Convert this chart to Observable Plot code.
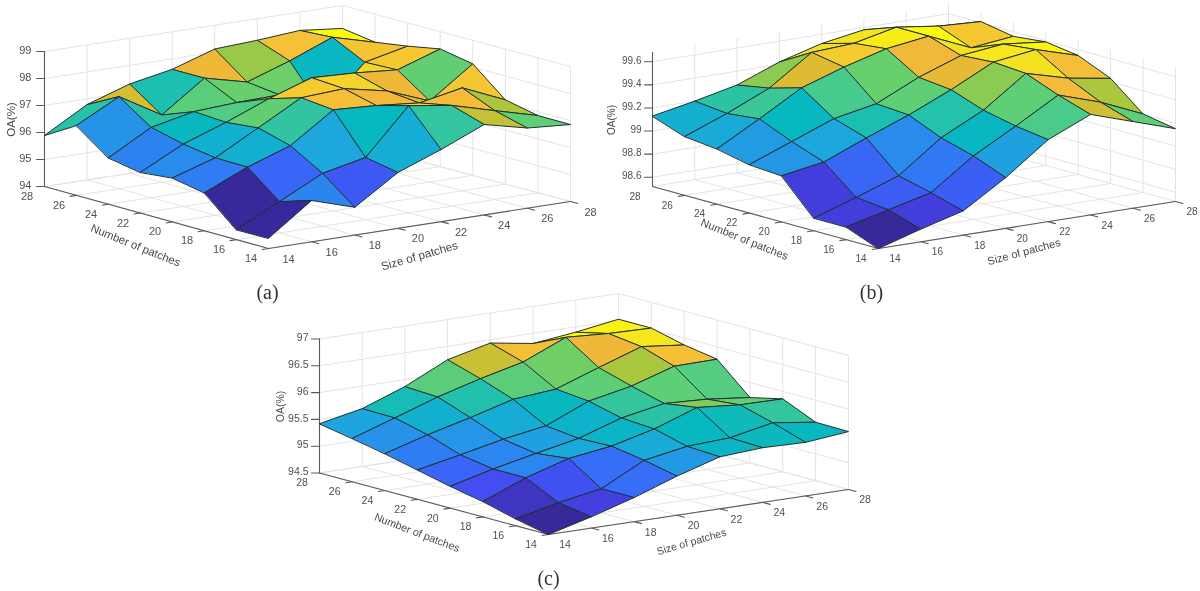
<!DOCTYPE html>
<html>
<head>
<meta charset="utf-8">
<script src="https://cdn.jsdelivr.net/npm/d3@7"></script>
<script src="https://cdn.jsdelivr.net/npm/@observablehq/plot@0.6"></script>
<style>
html,body{margin:0;padding:0;background:#fff}
svg{display:block;filter:blur(0.35px)}
</style>
</head>
<body>
<div id="chart"></div>
<script>
// Axis categories
const numberOfPatches = [28, 26, 24, 22, 20, 18, 16, 14];
const sizeOfPatches = [14, 16, 18, 20, 22, 24, 26, 28];

// OA(%): one row per size of patches, one value per number of patches (28 -> 14)
const oaA = [
  [95.89, 96.59, 95.72, 95.51, 95.63, 95.41, 94.37, 94.38],
  [96.79, 97.41, 96.60, 96.31, 96.13, 96.11, 95.16, 95.53],
  [97.31, 96.49, 96.94, 96.87, 96.99, 96.66, 95.96, 95.03],
  [97.61, 97.61, 97.03, 97.50, 97.86, 97.74, 96.30, 96.07],
  [98.12, 97.22, 97.07, 98.03, 97.95, 97.65, 97.97, 96.67],
  [98.20, 97.76, 96.27, 97.96, 97.62, 97.50, 97.73, 97.35],
  [98.32, 98.39, 97.79, 97.83, 97.00, 97.81, 97.29, 96.97],
  [98.15, 97.96, 98.14, 98.36, 98.13, 97.12, 96.86, 96.85]
];
const oaB = [
  [99.13, 99.03, 99.00, 98.94, 98.92, 98.63, 98.63, 98.52],
  [99.20, 99.17, 99.20, 99.08, 98.98, 98.75, 98.72, 98.63],
  [99.28, 99.33, 99.41, 99.22, 99.13, 98.88, 98.81, 98.73],
  [99.42, 99.58, 99.53, 99.29, 99.27, 99.15, 99.07, 98.96],
  [99.52, 99.60, 99.63, 99.46, 99.43, 99.33, 99.27, 99.23],
  [99.58, 99.68, 99.68, 99.59, 99.61, 99.59, 99.48, 99.39],
  [99.52, 99.63, 99.52, 99.63, 99.66, 99.49, 99.36, 99.27],
  [99.50, 99.61, 99.56, 99.59, 99.55, 99.43, 99.20, 99.15]
];
const oaC = [
  [95.42, 95.31, 95.19, 95.05, 94.91, 94.79, 94.63, 94.50],
  [95.58, 95.57, 95.42, 95.21, 95.11, 95.11, 94.81, 94.71],
  [95.87, 95.84, 95.62, 95.38, 95.28, 95.35, 94.95, 94.95],
  [96.25, 96.06, 95.84, 95.51, 95.44, 95.46, 95.36, 95.23],
  [96.44, 96.25, 95.91, 95.85, 95.70, 95.66, 95.50, 95.47],
  [96.31, 96.59, 96.19, 96.01, 95.85, 95.94, 95.54, 95.52],
  [96.40, 96.54, 96.46, 96.26, 95.81, 95.87, 95.70, 95.50],
  [96.52, 96.52, 96.37, 96.27, 95.72, 95.86, 95.59, 95.58]
];

const ticksA = [94, 95, 96, 97, 98, 99];
const ticksB = [98.6, 98.8, 99, 99.2, 99.4, 99.6];
const ticksC = [94.5, 95, 95.5, 96, 96.5, 97];

// Colour map stops (position, colour)
const colorStops = [0, .03, .12, .22, .3, .4, .48, .56, .62, .67, .72, .76, .82, .92, 1];
const colorValues = ["#37299a", "#3b2ca6", "#4545f0", "#3570f8", "#2a88ee", "#1ca8dc", "#07b8c0",
  "#2cc3a5", "#50cc85", "#6bcf6a", "#a5c83f", "#dcbc30", "#f5b73b", "#f5e024", "#fafa0a"];

// View geometry of each panel
const panels = [
  {name: "(a)", oa: oaA, ticks: ticksA, zBase: 94, zTop: 99, zPx: 135,
   left: [44, 186], front: [268, 248], right: [570, 201], back: [342, 140],
   capAt: [267, 292], numOff: [-21, 28], sizeOff: [0, 31], numRot: 22, sizeRot: -16, oaOff: -33,
   oaFont: 11.5, tickFont: 11, numFont: 11.3, sizeFont: 11.6, zDx: -13, sDx: 20},
  {name: "(b)", oa: oaB, ticks: ticksB, zBase: 98.52, zTop: 99.68, zPx: 134,
   left: [652, 186], front: [878, 248], right: [1175, 201], back: [948, 138],
   capAt: [871, 292], numOff: [-21, 22], sizeOff: [-3, 27], numRot: 22, sizeRot: -15, oaOff: -41,
   oaFont: 10, tickFont: 10, numFont: 11, sizeFont: 11, zDx: -11, sDx: 16.5},
  {name: "(c)", oa: oaC, ticks: ticksC, zBase: 94.5, zTop: 97, zPx: 134,
   left: [319, 472.5], front: [548, 534], right: [848, 489], back: [618, 427],
   capAt: [548, 578], numOff: [-17, 29], sizeOff: [-7, 30], numRot: 21, sizeRot: -16, oaOff: -39,
   oaFont: 10.5, tickFont: 10.5, numFont: 10.7, sizeFont: 10.5, zDx: -11, sDx: 16.5}
];

function project(p, n, s, z) {
  const u = (28 - n) / 14, v = (s - 14) / 14;
  // u: 0 at number 28, 1 at number 14. v: 0 at size 14, 1 at size 28.
  const mix = k => (1 - u) * (1 - v) * p.left[k] + u * (1 - v) * p.front[k] + u * v * p.right[k] + (1 - u) * v * p.back[k];
  const perUnit = p.zPx / (p.zTop - p.zBase);
  return {x: mix(0), y: mix(1) - (z - p.zBase) * perUnit};
}

const cellRows = [], gridRows = [], axisRows = [], textRows = [], titleRows = [], captionRows = [];
let gid = 0;
function seg(target, a, b) { const g = gid++; target.push({...a, g}, {...b, g}); }

for (const p of panels) {
  const nMin = 14, nMax = 28, sMin = 14, sMax = 28;
  const flat = p.oa.flat();
  const lo = d3.min(flat), hi = d3.max(flat);
  const zb = p.zBase, zt = p.zTop;

  // walls and floor
  for (const s of sizeOfPatches) {
    seg(gridRows, project(p, nMax, s, zb), project(p, nMax, s, zt));
    seg(gridRows, project(p, nMin, s, zb), project(p, nMax, s, zb));
  }
  for (const n of numberOfPatches) {
    seg(gridRows, project(p, n, sMax, zb), project(p, n, sMax, zt));
    seg(gridRows, project(p, n, sMin, zb), project(p, n, sMax, zb));
  }
  for (const t of p.ticks) {
    const a = project(p, nMax, sMin, t), c = project(p, nMax, sMax, t), d = project(p, nMin, sMax, t);
    seg(gridRows, a, c);
    seg(gridRows, c, d);
  }

  // axes
  seg(axisRows, project(p, nMax, sMin, zb), project(p, nMax, sMin, zt));
  seg(axisRows, project(p, nMax, sMin, zb), project(p, nMin, sMin, zb));
  seg(axisRows, project(p, nMin, sMin, zb), project(p, nMin, sMax, zb));
  for (const t of p.ticks) {
    const a = project(p, nMax, sMin, t);
    seg(axisRows, a, {x: a.x - 8, y: a.y});
    textRows.push({x: a.x + p.zDx, y: a.y - 1.2, label: String(t), anchor: "end", size: p.tickFont});
  }
  for (const n of numberOfPatches) {
    const a = project(p, n, sMin, zb);
    if (n !== nMax) { const b = project(p, n, sMin + 0.3, zb); seg(axisRows, {x: 2 * a.x - b.x, y: 2 * a.y - b.y}, a); }
    textRows.push({x: a.x - 17.5, y: a.y + 10, label: String(n), anchor: "middle", size: p.tickFont});
  }
  for (const s of sizeOfPatches) {
    const a = project(p, nMin, s, zb);
    if (s !== sMin) { const b = project(p, nMin + 0.45, s, zb); seg(axisRows, {x: 2 * a.x - b.x, y: 2 * a.y - b.y}, a); }
    textRows.push({x: a.x + p.sDx, y: a.y + 10.5, label: String(s), anchor: "middle", size: p.tickFont});
  }

  // surface: back cells first
  const cells = [];
  for (let j = 0; j < 7; j++) for (let i = 0; i < 7; i++) cells.push([i, j]);
  cells.sort((a, b) => (a[0] - a[1]) - (b[0] - b[1]));
  for (const [i, j] of cells) {
    const g = gid++;
    const t = (p.oa[j][i + 1] - lo) / (hi - lo);
    for (const [ii, jj] of [[i, j], [i, j + 1], [i + 1, j + 1], [i + 1, j]]) {
      cellRows.push({...project(p, numberOfPatches[ii], sizeOfPatches[jj], p.oa[jj][ii]), g, t});
    }
  }

  // titles
  const mid = (a, b, o) => ({x: (a[0] + b[0]) / 2 + o[0], y: (a[1] + b[1]) / 2 + o[1]});
  titleRows.push({...mid(p.left, p.front, p.numOff), label: "Number of patches", r: p.numRot, size: p.numFont});
  titleRows.push({...mid(p.front, p.right, p.sizeOff), label: "Size of patches", r: p.sizeRot, size: p.sizeFont});
  const axisBase = project(p, nMax, sMin, zb), axisTop = project(p, nMax, sMin, zt);
  titleRows.push({x: axisBase.x + p.oaOff, y: (axisBase.y + axisTop.y) / 2 + 0.5, label: "OA(%)", r: -90, size: p.oaFont});
  captionRows.push({x: p.capAt[0], y: p.capAt[1], label: p.name});
}

const sans = "'Liberation Sans', Arial, sans-serif";
const plot = Plot.plot({
  width: 1200,
  height: 591,
  margin: 0,
  x: {type: "linear", domain: [0, 1200], range: [0, 1200], axis: null},
  y: {type: "linear", domain: [0, 591], range: [0, 591], axis: null},
  color: {type: "linear", domain: colorStops, range: colorValues},
  style: {background: "#fff"},
  marks: [
    Plot.line(gridRows, {x: "x", y: "y", z: "g", stroke: "#e4e4e4", strokeWidth: 1}),
    Plot.line(axisRows, {x: "x", y: "y", z: "g", stroke: "#5a5a5a", strokeWidth: 1.1}),
    Plot.line(cellRows, {x: "x", y: "y", z: "g", fill: "t", stroke: "#20302f", strokeWidth: 1, curve: "linear-closed", strokeLinejoin: "round"}),
    ...["end", "middle"].map(anchor => Plot.text(
      textRows.filter(d => d.anchor === anchor),
      {x: "x", y: "y", text: "label", textAnchor: anchor, fontSize: d => d.size, fontFamily: sans, fill: "#505050"})),
    Plot.text(titleRows, {x: "x", y: "y", text: "label", rotate: "r", fontSize: d => d.size, fontFamily: sans, fill: "#484848"}),
    Plot.text(captionRows, {x: "x", y: "y", text: "label", fontSize: 20, fontFamily: "'Liberation Serif', serif", fill: "#333"})
  ]
});
document.getElementById("chart").append(plot);
</script>
</body>
</html>
